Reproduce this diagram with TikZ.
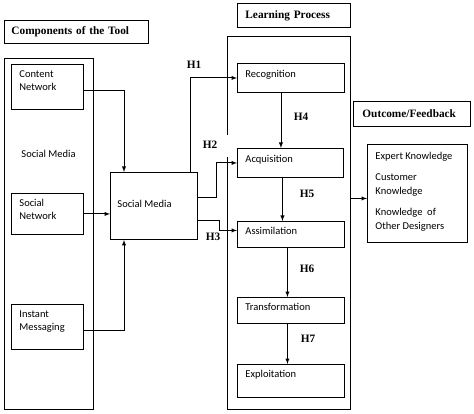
\documentclass[tikz,border=0pt]{standalone}
\usepackage{fontspec}
\setmainfont{Liberation Serif}
\newfontfamily\calib{Carlito}
\tikzset{>=latex}
\tikzset{
  box/.style={draw, rectangle, inner sep=0pt, anchor=north west},
  head/.style={draw, rectangle, anchor=north west, inner ysep=0pt, inner xsep=7pt, text width=#1, align=left, font=\bfseries\fontsize{11.3}{13}\selectfont},
  hyp/.style={inner sep=0pt, font=\bfseries\fontsize{11.3}{13}\selectfont},
  txt/.style={inner sep=0pt, align=left, font=\calib\fontsize{10.5}{13}\selectfont},
  inlabel/.style={txt, anchor=north west, xshift=8pt, yshift=-6pt}
}

\begin{document}
\begin{tikzpicture}[x=1pt, y=-1pt, line width=0.9pt]
\useasboundingbox (0,0) rectangle (474,414);
% headings
\node[head=130pt, minimum height=23pt] (comp) at (4,20) {Components of the Tool};
\node[head=97pt, inner xsep=8pt, minimum height=24pt] (learn) at (237,3) {Learning Process};
\node[head=99pt, inner xsep=9pt, minimum height=25pt] (outh) at (353,101) {Outcome/Feedback};

% components of the tool
\node[box, minimum width=89pt, minimum height=351pt] (tool) at (4,58) {};
\node[box, minimum width=72pt, minimum height=45pt, label={[inlabel]north west:Content\\Network}] (cn) at (11,64) {};
\node[txt, anchor=west] (smtext) at (21,154) {Social Media};
\node[box, minimum width=72pt, minimum height=41pt, label={[inlabel]north west:Social\\Network}] (sn) at (11,193) {};
\node[box, minimum width=72pt, minimum height=45pt, label={[inlabel]north west:Instant\\Messaging}] (im) at (11,304) {};
\node[box, minimum width=87pt, minimum height=67pt, label={[txt, anchor=west, xshift=7pt, yshift=2pt]west:Social Media}] (sm) at (110,172) {};

% learning process
\node[box, draw=none, minimum width=123pt, minimum height=373pt] (lp) at (227,36) {};
\coordinate (gapa) at (0,135);
\coordinate (gapb) at (0,157);
\draw (lp.west |- gapa) -- (lp.north west) -- (lp.north east) -- (lp.south east) -- (lp.south west) -- (lp.west |- gapb);
\node[box, minimum width=107pt, minimum height=29pt, label={[inlabel, yshift=-1pt]north west:Recognition}] (rec) at (237,63) {};
\node[box, minimum width=106pt, minimum height=29pt, label={[inlabel, yshift=-1pt]north west:Acquisition}] (acq) at (237,148) {};
\node[box, minimum width=107pt, minimum height=26pt, label={[inlabel]north west:Assimilation}] (asm) at (237,221) {};
\node[box, minimum width=107pt, minimum height=26pt, label={[inlabel]north west:Transformation}] (tra) at (237,297) {};
\node[box, minimum width=107pt, minimum height=33pt, label={[inlabel]north west:Exploitation}] (exl) at (237,364) {};

% outcome
\node[box, minimum width=100pt, minimum height=98pt, label={[inlabel, yshift=-2pt, font=\calib\fontsize{10.5}{14}\selectfont]north west:Expert Knowledge\\[7pt]Customer\\Knowledge\\[7pt]Knowledge\ \ of\\Other Designers}] (out) at (367,144) {};

% connectors
\draw[->] ([yshift=-3.5pt]cn.east) -| ([xshift=14pt]sm.north west);
\draw[->] (sn.east) -- (sn.east -| sm.west);
\draw[->] ([yshift=-3.5pt]im.east) -| ([xshift=14pt]sm.south west);
\draw[->] ([xshift=-7pt]sm.north east) |- (rec.west);
\draw[->] ([yshift=8.5pt]sm.east) -- ++(19,0) |- (acq.west);
\draw[->] ([yshift=-14.5pt]sm.east) -- ++(22,0) |- ([yshift=4pt]asm.west);
\draw[->] ([xshift=-10pt]rec.south) -- ([xshift=-10pt]rec.south |- acq.north);
\draw[->] ([xshift=-8pt]acq.south) -- ([xshift=-8pt]acq.south |- asm.north);
\draw[->] ([xshift=-3.5pt]asm.south) -- ([xshift=-3.5pt]asm.south |- tra.north);
\draw[->] ([xshift=-3.5pt]tra.south) -- ([xshift=-3.5pt]tra.south |- exl.north);
\draw[->] ([yshift=-5pt]out.west -| lp.east) -- ([yshift=-5pt]out.west);

% hypotheses
\node[hyp] (h1) at (194,65) {H1};
\node[hyp] (h2) at (210,145) {H2};
\node[hyp] (h3) at (213,237) {H3};
\node[hyp] (h4) at (301,117) {H4};
\node[hyp] (h5) at (307,194) {H5};
\node[hyp] (h6) at (307,269) {H6};
\node[hyp] (h7) at (308,339) {H7};
\end{tikzpicture}
\end{document}
